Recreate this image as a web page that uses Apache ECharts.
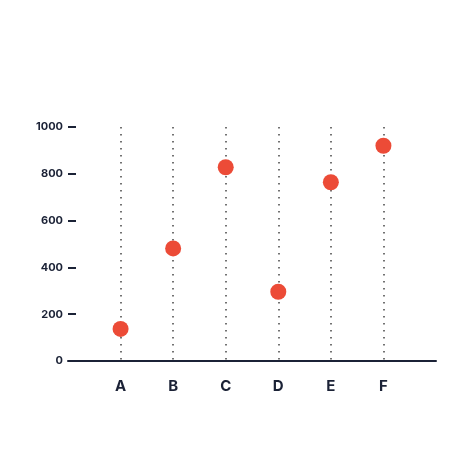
<!DOCTYPE html>
<html>
<head>
<meta charset="utf-8">
<script src="https://cdn.jsdelivr.net/npm/echarts@6/dist/echarts.min.js"></script>
<style>html,body{margin:0;padding:0;background:#fff;}#c{width:474px;height:473px;}</style>
</head>
<body>
<div id="c"></div>
<script>
const categories = ['A', 'B', 'C', 'D', 'E', 'F'];
const values = [137, 481, 828, 296, 764, 920];
const yTicks = [0, 200, 400, 600, 800, 1000];

const axisCats = [''].concat(categories, ['']);
const chart = echarts.init(document.getElementById('c'));
chart.setOption({
  animation: false,
  grid: { left: 68, right: 38, top: 127, bottom: 112 },
  xAxis: {
    type: 'category',
    data: axisCats,
    boundaryGap: false,
    axisLine: { lineStyle: { color: '#1b2236', width: 2 } },
    axisTick: { show: false },
    axisLabel: {
      interval: 0, margin: 18, color: '#1b2236', fontSize: 15, fontWeight: 'bold',
      fontFamily: 'Inter, Lato, sans-serif'
    },
    splitLine: {
      show: true,
      interval: function (i, v) { return v !== ''; },
      lineStyle: { color: '#444', width: 1.5, type: [1.5, 5.5] }
    }
  },
  yAxis: {
    type: 'value',
    min: yTicks[0], max: yTicks[yTicks.length - 1], interval: 200,
    axisLine: { show: false },
    axisTick: { show: true, inside: true, length: 8, lineStyle: { color: '#1b2236', width: 2 } },
    axisLabel: {
      margin: 5, color: '#1b2236', fontSize: 11, fontWeight: 'bold',
      fontFamily: 'Inter, Lato, sans-serif',
      formatter: function (v) { return String(v); }
    },
    splitLine: { show: false }
  },
  series: [{
    type: 'scatter',
    symbolSize: 16,
    itemStyle: { color: '#ec4b37', opacity: 1 },
    data: categories.map((c, i) => [c, values[i]])
  }]
});
</script>
</body>
</html>
